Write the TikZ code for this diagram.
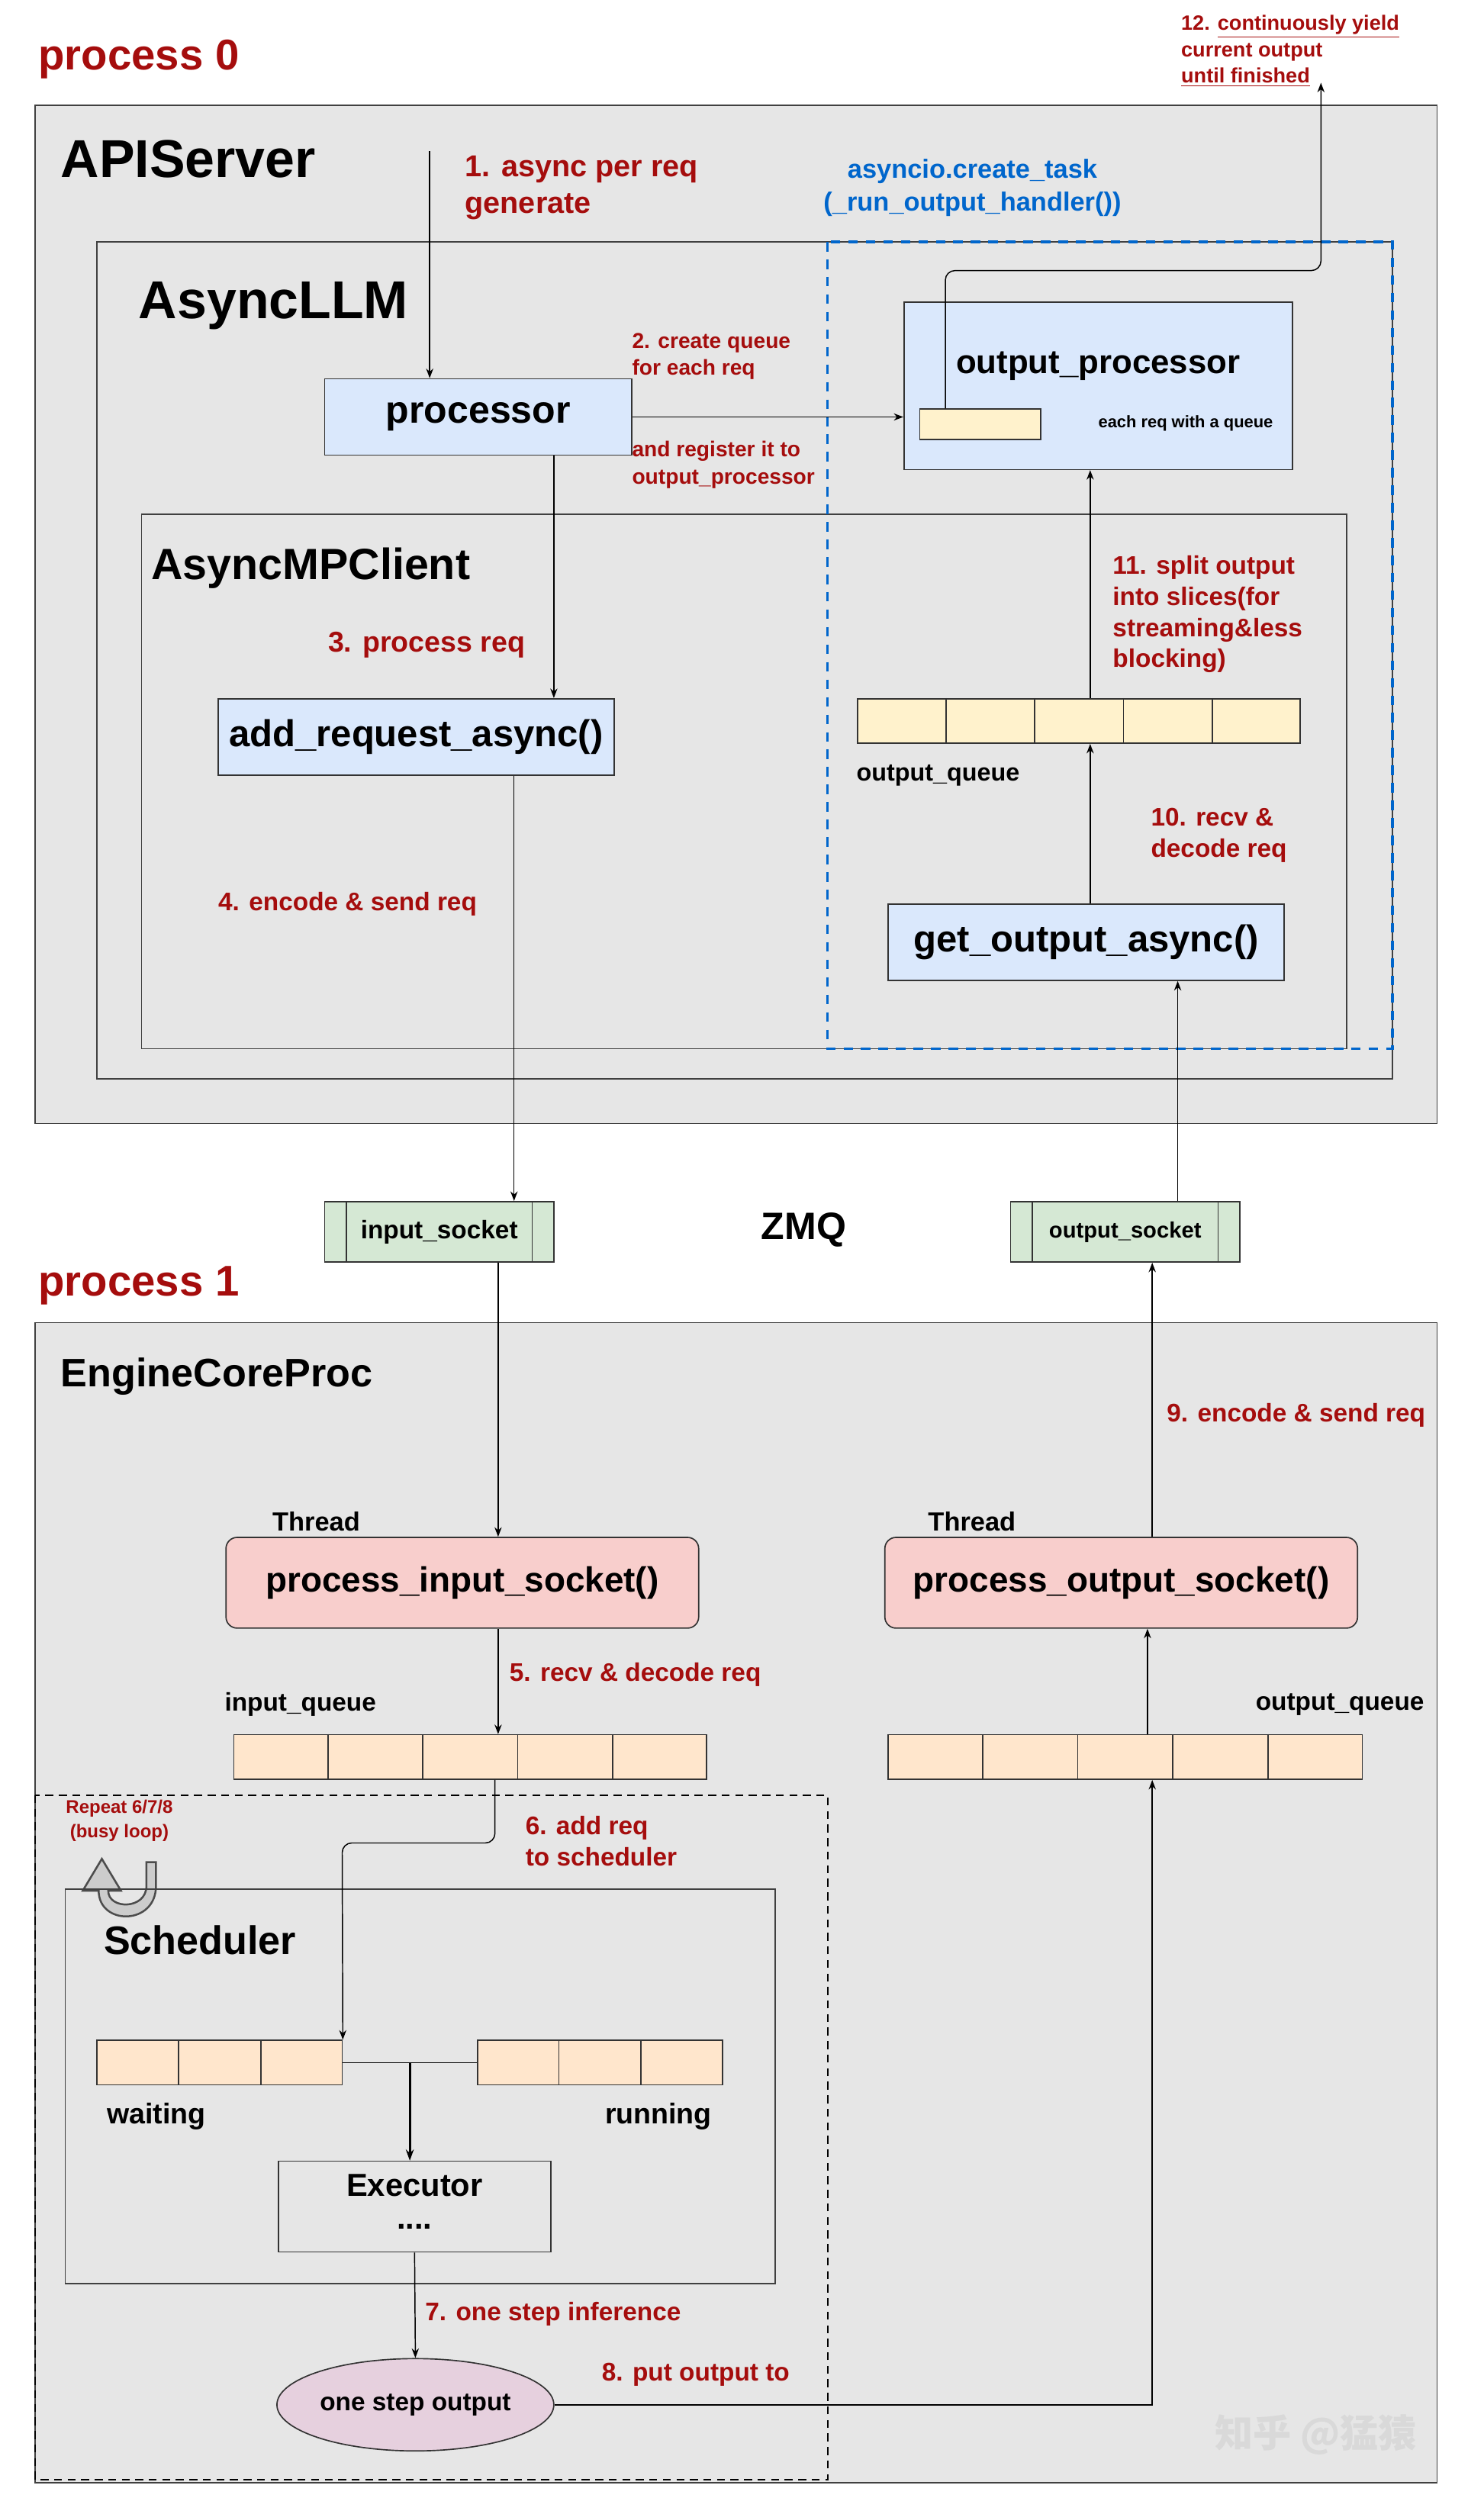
\documentclass[tikz,border=0pt]{standalone}
\usepackage{fontspec}
\setmainfont{Liberation Sans}
\newfontfamily\cjk{Noto Sans CJK SC}
\usetikzlibrary{calc,arrows.meta,shapes.geometric}
\definecolor{dred}{HTML}{A50D0D}
\definecolor{bgray}{HTML}{E6E6E6}
\definecolor{lblue}{HTML}{DAE8FC}
\definecolor{lyel}{HTML}{FFF2CC}
\definecolor{lor}{HTML}{FFE6CC}
\definecolor{lgreen}{HTML}{D5E8D4}
\definecolor{lred}{HTML}{F8CECC}
\definecolor{lpur}{HTML}{E6D0DE}
\definecolor{dblue}{HTML}{0066CC}
\begin{document}
\begin{tikzpicture}[x=1pt,y=-1pt,
  box/.style={draw=black!80,line width=0.8pt,inner sep=0pt},
  arr/.style={-{Stealth[length=6pt,width=4.5pt]},line width=0.7pt},
  lab/.style={font=\bfseries,text=dred,align=left,anchor=west,inner sep=0pt},
  blk/.style={font=\bfseries,anchor=west,inner sep=0pt},
  cont/.style={draw=black!75,line width=0.8pt},
  q/.style={box,minimum height=28pt}]
\useasboundingbox (0,0) rectangle (932,1569.6);
\fill[white] (0,0) rectangle (932,1569.6);
\newcommand{\qdiv}[2]{\foreach \i in {1,...,#2}{\pgfmathsetmacro\ff{\i/(#2+1)}\draw[line width=0.8pt,black!80] ($(#1.north west)!\ff!(#1.north east)$) -- ($(#1.south west)!\ff!(#1.south east)$);}}
% process 0
\node[lab,font=\fontsize{27}{30}\selectfont\bfseries] (p0) at (24,37) {process 0};
\draw[cont,fill=bgray] (22,66) rectangle (903,706);
\draw[cont] (61,152) rectangle (875,678);
\draw[cont] (89,323) rectangle (846,659);
\draw[dblue,line width=1.6pt,dash pattern=on 6pt off 5pt] (520,152) rectangle (875,659);
\node[blk,font=\fontsize{33.5}{36}\selectfont\bfseries] at (38,100) {APIServer};
\node[blk,font=\fontsize{33.5}{36}\selectfont\bfseries] at (87,192) {AsyncLLM};
\node[blk,font=\fontsize{27.5}{30}\selectfont\bfseries] at (95,357) {AsyncMPClient};
\node[lab,font=\fontsize{19}{23}\selectfont\bfseries] at (292,118) {1. async per req\\generate};
\node[font=\fontsize{16.5}{21}\selectfont\bfseries,text=dblue,align=center] at (611,118) {asyncio.create\_task\\(\_run\_output\_handler())};
% AsyncLLM contents
\node[box,fill=lblue,minimum width=193pt,minimum height=48pt,font=\fontsize{24}{28}\selectfont\bfseries] (proc) at (300.5,262) {processor};
\node[box,fill=lblue,minimum width=244pt,minimum height=105pt] (op) at (690,242.5) {};
\node[font=\fontsize{21}{24}\selectfont\bfseries] at (690,230) {output\_processor};
\node[box,fill=lyel,minimum width=76pt,minimum height=19pt] (opq) at (616,266.5) {};
\node[font=\fontsize{10.5}{12}\selectfont\bfseries] at (745,266) {each req with a queue};
\node[lab,font=\fontsize{13.5}{17}\selectfont\bfseries] at (397,224) {2. create queue\\for each req};
\node[lab,font=\fontsize{13.5}{17}\selectfont\bfseries] at (397,292) {and register it to\\output\_processor};
\node[lab,font=\fontsize{18}{20}\selectfont\bfseries] at (206,405) {3. process req};
\node[box,fill=lblue,minimum width=249pt,minimum height=48pt,font=\fontsize{23.5}{26}\selectfont\bfseries] (addr) at (261.5,463) {add\_request\_async()};
\node[lab,font=\fontsize{16}{18}\selectfont\bfseries] at (137,568) {4. encode \& send req};
\node[q,fill=lyel,minimum width=278pt] (oq1) at (678,453) {};
\qdiv{oq1}{4}
\node[blk,font=\fontsize{15.5}{18}\selectfont\bfseries] at (538,487) {output\_queue};
\node[lab,font=\fontsize{16}{19.5}\selectfont\bfseries] at (699,386) {11. split output\\into slices(for\\streaming\&less\\blocking)};
\node[box,fill=lblue,minimum width=249pt,minimum height=48pt,font=\fontsize{23.5}{26}\selectfont\bfseries] (geto) at (682.5,592) {get\_output\_async()};
\node[lab,font=\fontsize{16}{19.5}\selectfont\bfseries] at (723,525) {10. recv \&\\decode req};
\node[lab,font=\fontsize{13}{16.5}\selectfont\bfseries] at (742,32) {12. \underline{continuously yield}\\current output\\\underline{until finished}};
% sockets
\node[box,fill=lgreen,minimum width=144pt,minimum height=38pt,font=\fontsize{16}{18}\selectfont\bfseries] (ins) at (276,774) {input\_socket};
\draw[line width=0.8pt,black!80] ($(ins.north west)+(14,0)$) -- ($(ins.south west)+(14,0)$) ($(ins.north east)+(-14,0)$) -- ($(ins.south east)+(-14,0)$);
\node[box,fill=lgreen,minimum width=144pt,minimum height=38pt,font=\fontsize{14}{16}\selectfont\bfseries] (outs) at (707,774) {output\_socket};
\draw[line width=0.8pt,black!80] ($(outs.north west)+(14,0)$) -- ($(outs.south west)+(14,0)$) ($(outs.north east)+(-14,0)$) -- ($(outs.south east)+(-14,0)$);
\node[font=\fontsize{24}{26}\selectfont\bfseries] at (505,773) {ZMQ};
% process 1
\node[lab,font=\fontsize{27}{30}\selectfont\bfseries] at (24,808) {process 1};
\draw[cont,fill=bgray] (22,831) rectangle (903,1560);
\node[blk,font=\fontsize{25}{26}\selectfont\bfseries] at (38,865) {EngineCoreProc};
\node[blk,font=\fontsize{16.5}{19}\selectfont\bfseries] at (171,956) {Thread};
\node[blk,font=\fontsize{16.5}{19}\selectfont\bfseries] at (583,956) {Thread};
\node[box,fill=lred,rounded corners=7pt,minimum width=297pt,minimum height=57pt,font=\fontsize{22}{24}\selectfont\bfseries] (pis) at (290.5,994.5) {process\_input\_socket()};
\node[box,fill=lred,rounded corners=7pt,minimum width=297pt,minimum height=57pt,font=\fontsize{22}{24}\selectfont\bfseries] (pos) at (704.5,994.5) {process\_output\_socket()};
\node[lab,font=\fontsize{16}{18}\selectfont\bfseries] at (733,889) {9. encode \& send req};
\node[blk,font=\fontsize{16}{18}\selectfont\bfseries] at (141,1071) {input\_queue};
\node[q,fill=lor,minimum width=297pt] (iq) at (295.5,1104) {};
\qdiv{iq}{4}
\node[lab,font=\fontsize{16}{18}\selectfont\bfseries] at (320,1052) {5. recv \& decode req};
\node[blk,font=\fontsize{16}{18}\selectfont\bfseries,anchor=east] at (895,1071) {output\_queue};
\node[q,fill=lor,minimum width=298pt] (oq2) at (707,1104) {};
\qdiv{oq2}{4}
\draw[line width=1pt,dash pattern=on 5pt off 3.5pt] (22,1128) rectangle (520,1558);
\node[font=\fontsize{11.5}{15}\selectfont\bfseries,text=dred,align=center] at (75,1144) {Repeat 6/7/8\\(busy loop)};
% busy loop icon
\draw[line width=1.2pt,draw=black!70,fill=black!20] (92,1170) -- (98,1170) -- (98,1185) .. controls (98,1210) and (62,1210) .. (62,1188) -- (52,1188) -- (64,1168) -- (76,1188) -- (68,1188) .. controls (68,1200) and (92,1200) .. (92,1185) -- cycle;
\draw[cont] (41,1187) rectangle (487,1435);
\node[blk,font=\fontsize{25}{26}\selectfont\bfseries] at (65,1219) {Scheduler};
\node[lab,font=\fontsize{16}{19.5}\selectfont\bfseries] at (330,1157) {6. add req\\to scheduler};
\node[q,fill=lor,minimum width=154pt] (wq) at (138,1296) {};
\qdiv{wq}{2}
\node[q,fill=lor,minimum width=154pt] (rq) at (377,1296) {};
\qdiv{rq}{2}
\node[blk,font=\fontsize{18}{20}\selectfont\bfseries] at (67,1330) {waiting};
\node[blk,font=\fontsize{18}{20}\selectfont\bfseries] at (380,1330) {running};
\node[box,fill=bgray,minimum width=171pt,minimum height=57pt] (ex) at (260.5,1386.5) {};
\node[font=\fontsize{20}{22}\selectfont\bfseries] at (260.5,1373) {Executor};
\node[font=\fontsize{20}{22}\selectfont\bfseries] at (260.5,1399) {....};
\node[lab,font=\fontsize{16}{18}\selectfont\bfseries] at (267,1454) {7. one step inference};
\node[ellipse,draw=black!80,line width=0.8pt,fill=lpur,minimum width=174pt,minimum height=58pt,inner sep=0pt,font=\fontsize{16}{18}\selectfont\bfseries] (eso) at (261,1511) {one step output};
\node[lab,font=\fontsize{16}{18}\selectfont\bfseries] at (378,1492) {8. put output to};
\node[font=\cjk\fontsize{24}{28}\selectfont\bfseries,text=black!15,anchor=west] at (760,1530) {知乎 @猛猿};
% connectors
\coordinate (c1) at (270,95);
\coordinate (x348) at (348,0);
\coordinate (x323) at (323,0);
\coordinate (x685) at (685,0);
\coordinate (x740) at (740,0);
\coordinate (x594) at (594,0);
\coordinate (c12) at (830,52);
\coordinate (x313) at (313,0);
\coordinate (x724) at (724,0);
\coordinate (x721) at (721,0);
\coordinate (x311) at (311,0);
\coordinate (x215) at (215,0);
\coordinate (y1158) at (0,1158);
\coordinate (mid) at ($(wq.east)!0.5!(rq.west)$);
\draw[arr] (c1) -- (c1 |- proc.north);
\draw[arr] (proc.east) -- (proc.east -| op.west);
\draw[arr] (proc.south -| x348) -- (addr.north -| x348);
\draw[arr] (addr.south -| x323) -- (ins.north -| x323);
\draw[arr] (oq1.north -| x685) -- (op.south -| x685);
\draw[arr] (geto.north -| x685) -- (oq1.south -| x685);
\draw[arr] (outs.north -| x740) -- (geto.south -| x740);
\draw[arr,rounded corners=6pt] (opq.north -| x594) -- ($(x594|-c12)+(0,118)$) -- ($(c12)+(0,118)$) -- (c12);
\draw[arr] (ins.south -| x313) -- (pis.north -| x313);
\draw[arr] (pos.north -| x724) -- (outs.south -| x724);
\draw[arr] (pis.south -| x313) -- (iq.north -| x313);
\draw[arr] (oq2.north -| x721) -- (pos.south -| x721);
\draw[arr,rounded corners=6pt] (iq.south -| x311) -- (x311 |- y1158) -- (x215 |- y1158) -- (wq.north east);
\draw[line width=0.8pt] (wq.east) -- (rq.west);
\draw[-{Stealth[length=7pt,width=5pt]},line width=1.5pt] (mid) -- (mid |- ex.north);
\draw[arr] (ex.south) -- (eso.north);
\draw[arr] (eso.east) -- (eso.east -| x724) -- (oq2.south -| x724);
\end{tikzpicture}
\end{document}
